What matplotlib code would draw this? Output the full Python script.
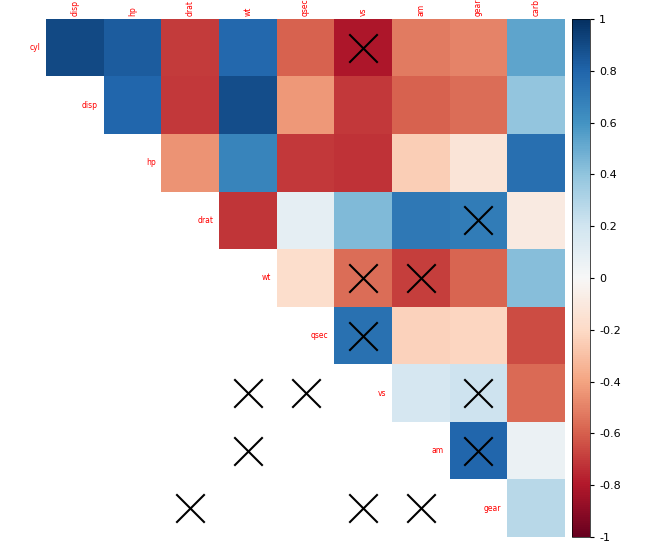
import numpy as np
import matplotlib.pyplot as plt

rows = ["cyl", "disp", "hp", "drat", "wt", "qsec", "vs", "am", "gear"]
cols = ["disp", "hp", "drat", "wt", "qsec", "vs", "am", "gear", "carb"]

# upper-triangle correlations (mtcars), row by row starting at the diagonal
corr_rows = [
    [0.902, 0.832, -0.700, 0.782, -0.591, -0.811, -0.523, -0.493, 0.527],
    [0.791, -0.710, 0.888, -0.434, -0.710, -0.591, -0.556, 0.395],
    [-0.449, 0.659, -0.708, -0.723, -0.243, -0.126, 0.750],
    [-0.712, 0.091, 0.440, 0.713, 0.700, -0.091],
    [-0.175, -0.555, -0.692, -0.583, 0.428],
    [0.745, -0.230, -0.213, -0.656],
    [0.168, 0.206, -0.570],
    [0.794, 0.058],
    [0.274],
]

crosses = [("cyl", "vs"), ("drat", "gear"), ("wt", "vs"), ("wt", "am"),
           ("qsec", "vs"), ("vs", "wt"), ("vs", "qsec"), ("vs", "gear"),
           ("am", "wt"), ("am", "gear"), ("gear", "drat"), ("gear", "vs"),
           ("gear", "am")]

n = len(rows)
mat = np.full((n, n), np.nan)
for i, vals in enumerate(corr_rows):
    mat[i, i:i + len(vals)] = vals

fig = plt.figure(figsize=(6.49, 5.47), dpi=100)
ax = fig.add_axes([46 / 649, 10 / 547, 519 / 649, 518 / 547])
cax = fig.add_axes([572 / 649, 10 / 547, 18 / 649, 518 / 547])

im = ax.imshow(np.ma.masked_invalid(mat), cmap="RdBu", vmin=-1, vmax=1,
               aspect="auto", interpolation="nearest")
ax.set_xlim(-0.5, n - 0.5)
ax.set_ylim(n - 0.5, -0.5)
ax.axis("off")

for j, c in enumerate(cols):
    ax.text(j, -0.55, c, rotation=90, ha="center", va="bottom",
            fontsize=5.5, color="red")
for i, r in enumerate(rows):
    ax.text(i - 0.6, i, r, ha="right", va="center", fontsize=5.5, color="red")

cx = [cols.index(c) for r, c in crosses]
cy = [rows.index(r) for r, c in crosses]
ax.scatter(cx, cy, marker="x", s=420, color="black", linewidths=1.5)

cb = fig.colorbar(im, cax=cax, ticks=np.linspace(-1, 1, 11))
cb.ax.set_yticklabels(["-1", "-0.8", "-0.6", "-0.4", "-0.2", "0",
                       "0.2", "0.4", "0.6", "0.8", "1"])
cb.ax.tick_params(labelsize=8, length=3)
cb.outline.set_linewidth(0.5)

fig.savefig("out.png", dpi=100)
